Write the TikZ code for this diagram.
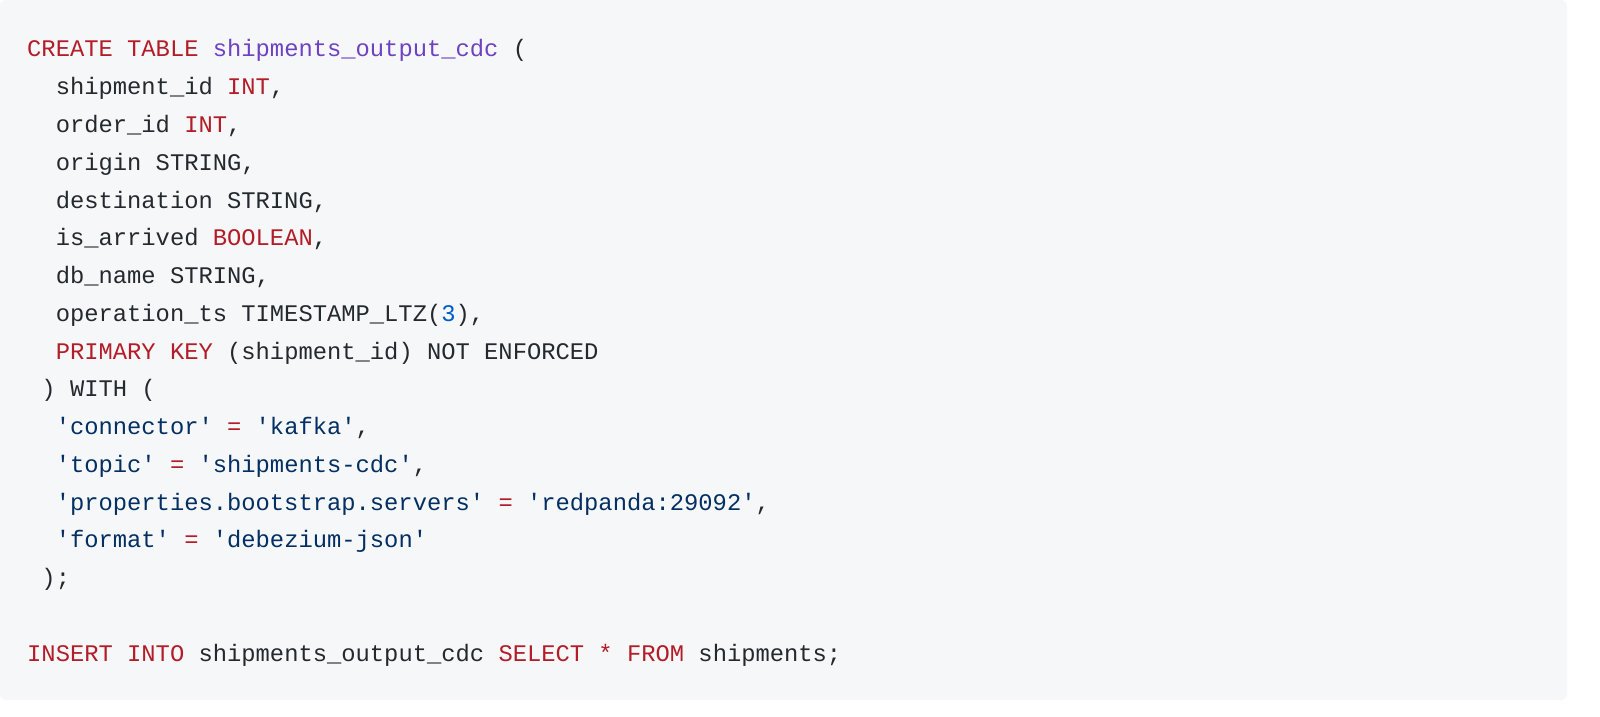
\documentclass[tikz,border=0pt]{standalone}
\usepackage{fontspec}
\setmonofont{Liberation Mono}
\definecolor{bgc}{HTML}{F6F7F9}
\definecolor{kw}{HTML}{B31D28}
\definecolor{pu}{HTML}{6F42C1}
\definecolor{nu}{HTML}{005CC5}
\definecolor{st}{HTML}{032F62}
\definecolor{tx}{HTML}{24292E}
\newcommand{\Kw}[1]{\textcolor{kw}{#1}}
\newcommand{\Sq}[1]{\textcolor{st}{#1}}
\begin{document}
\begin{tikzpicture}[x=1bp,y=-1bp,
  ln/.style={anchor=base west,inner sep=0pt,font=\fontsize{23.8bp}{28bp}\ttfamily,text=tx}]
\useasboundingbox (0,0) rectangle (1600,717);
\fill[bgc,rounded corners=6bp] (0,0) rectangle (1567,700);
\node[ln] (l1) at (27,57) {\Kw{CREATE}~\Kw{TABLE}~\textcolor{pu}{shipments\_output\_cdc}~(};
\node[ln] (l2) at (27,94.75) {~~shipment\_id~\Kw{INT},};
\node[ln] (l3) at (27,132.5) {~~order\_id~\Kw{INT},};
\node[ln] (l4) at (27,170.25) {~~origin~STRING,};
\node[ln] (l5) at (27,208) {~~destination~STRING,};
\node[ln] (l6) at (27,245.75) {~~is\_arrived~\Kw{BOOLEAN},};
\node[ln] (l7) at (27,283.5) {~~db\_name~STRING,};
\node[ln] (l8) at (27,321.25) {~~operation\_ts~TIMESTAMP\_LTZ(\textcolor{nu}{3}),};
\node[ln] (l9) at (27,359) {~~\Kw{PRIMARY}~\Kw{KEY}~(shipment\_id)~NOT~ENFORCED};
\node[ln] (l10) at (27,396.75) {~)~WITH~(};
\node[ln] (l11) at (27,434.5) {~~\Sq{'connector'}~\Kw{=}~\Sq{'kafka'},};
\node[ln] (l12) at (27,472.25) {~~\Sq{'topic'}~\Kw{=}~\Sq{'shipments-cdc'},};
\node[ln] (l13) at (27,510) {~~\Sq{'properties.bootstrap.servers'}~\Kw{=}~\Sq{'redpanda:29092'},};
\node[ln] (l14) at (27,547.75) {~~\Sq{'format'}~\Kw{=}~\Sq{'debezium-json'}};
\node[ln] (l15) at (27,585.5) {~);};
\node[ln] (l16) at (27,661) {\Kw{INSERT}~\Kw{INTO}~shipments\_output\_cdc~\Kw{SELECT}~\Kw{*}~\Kw{FROM}~shipments;};
\end{tikzpicture}
\end{document}
